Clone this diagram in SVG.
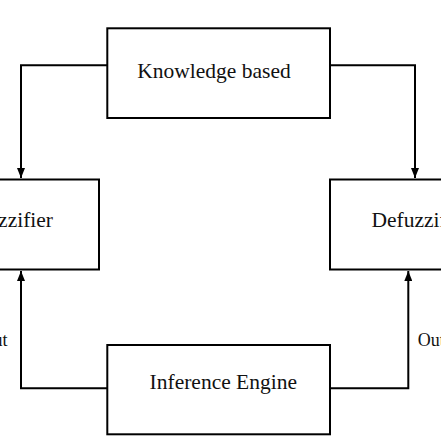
<svg xmlns="http://www.w3.org/2000/svg" width="441" height="441" viewBox="0 0 441 441">
<style>
.box{fill:#fff;stroke:#000;stroke-width:2}
.lbl{font-family:"Liberation Serif","Times New Roman",serif;font-size:21.5px;fill:#111}
.sm{font-family:"Liberation Serif","Times New Roman",serif;font-size:18px;fill:#111}
.con{fill:none;stroke:#000;stroke-width:2}
</style>
<defs>
<marker id="arr" viewBox="0 0 10 8" refX="10" refY="4" markerWidth="10" markerHeight="8" markerUnits="userSpaceOnUse" orient="auto">
<path d="M0,0 L10,4 L0,8 z" fill="#000"/>
</marker>
</defs>
<rect width="441" height="441" fill="#fff"/>
<g id="connectors">
<polyline class="con" points="107,65.3 21,65.3 21,178" marker-end="url(#arr)"/>
<polyline class="con" points="330,65.3 415,65.3 415,178" marker-end="url(#arr)"/>
<polyline class="con" points="107,388.3 21,388.3 21,271" marker-end="url(#arr)"/>
<polyline class="con" points="330,388.3 408.3,388.3 408.3,271" marker-end="url(#arr)"/>
<text class="sm" x="7.5" y="346" text-anchor="end">Input</text>
<text class="sm" x="417.7" y="346">Output</text>
</g>
<g id="knowledge">
<rect class="box" x="107.3" y="28.3" width="222.7" height="89.7"/>
<text class="lbl" x="214" y="77.7" text-anchor="middle">Knowledge based</text>
</g>
<g id="fuzzifier">
<rect class="box" x="-70" y="179.5" width="169" height="90"/>
<text class="lbl" x="53" y="227" text-anchor="end">Fuzzifier</text>
</g>
<g id="defuzzifier">
<rect class="box" x="330" y="179.5" width="160" height="90"/>
<text class="lbl" x="371.5" y="227">Defuzzifier</text>
</g>
<g id="inference">
<rect class="box" x="107.3" y="345" width="222.7" height="89.3"/>
<text class="lbl" x="223.3" y="389" text-anchor="middle">Inference Engine</text>
</g>
</svg>
